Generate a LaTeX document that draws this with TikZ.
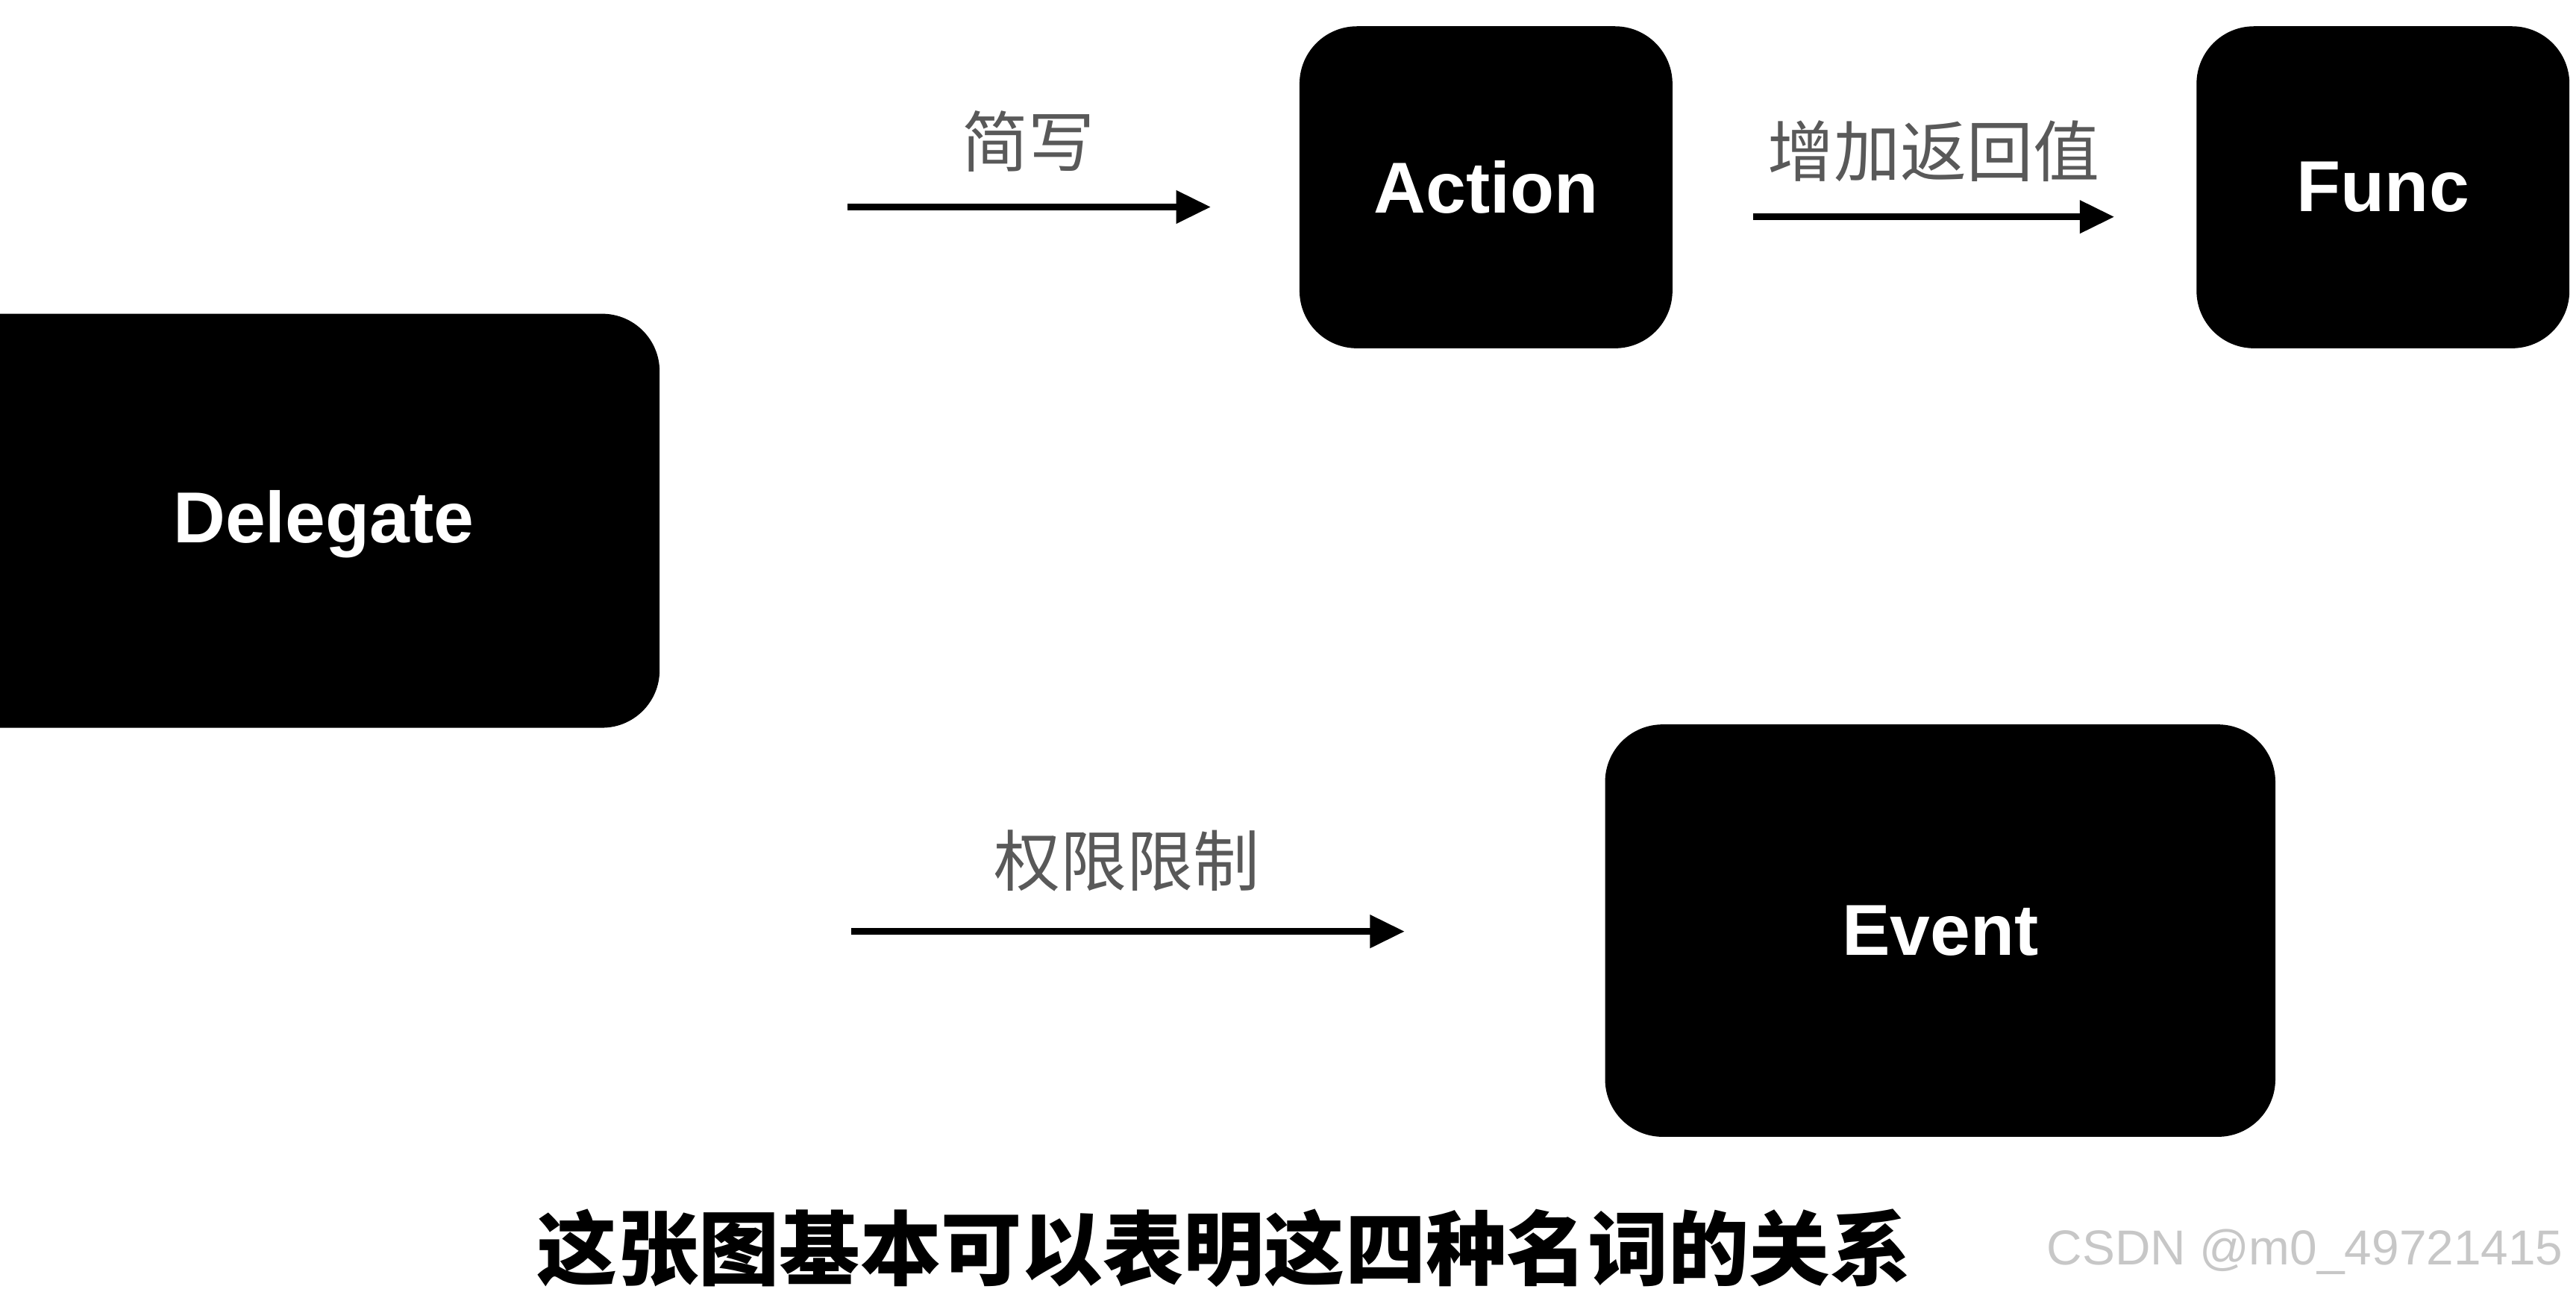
\documentclass[tikz,border=0pt]{standalone}
\usepackage{fontspec}
\setmainfont{Liberation Sans}
\newfontfamily\cjk{Noto Sans CJK SC}
\usetikzlibrary{arrows.meta}
\begin{document}
\begin{tikzpicture}[x=0.02cm,y=-0.02cm,
  box/.style={fill=black,rounded corners=0.7cm,inner sep=0pt,text=white,font=\fontsize{25}{30}\selectfont\bfseries},
  arr/.style={line width=2.3pt,-{Triangle[length=12pt,width=11pt]}},
  lab/.style={text=black!65,font=\cjk\fontsize{23}{28}\selectfont}]
\useasboundingbox (0,0) rectangle (1568,788);
\begin{scope}
\clip (0,0) rectangle (1568,788);
\node[box,minimum width=441*0.02cm,minimum height=252*0.02cm] (del) at (181,317) {};
\end{scope}
\node[text=white,font=\fontsize{25}{30}\selectfont\bfseries] (delt) at (197,319) {Delegate};
\node[box,minimum width=227*0.02cm,minimum height=196*0.02cm] (act) at (904.5,114) {Action};
\node[box,minimum width=227*0.02cm,minimum height=196*0.02cm] (fun) at (1450.5,114) {Func};
\node[box,minimum width=408*0.02cm,minimum height=251*0.02cm] (evt) at (1181,566.5) {Event};
\coordinate (a1) at (516,126); \coordinate (b1) at (737,126);
\coordinate (a2) at (1067,132); \coordinate (b2) at (1287,132);
\coordinate (a3) at (518,567); \coordinate (b3) at (855,567);
\draw[arr] (a1) -- (b1);
\draw[arr] (a2) -- (b2);
\draw[arr] (a3) -- (b3);
\node[lab] (l1) at (626,86) {简写};
\node[lab] (l2) at (1177,92) {增加返回值};
\node[lab] (l3) at (686,524) {权限限制};
\node[font=\cjk\fontsize{28}{34}\selectfont\bfseries] (cap) at (745,760) {这张图基本可以表明这四种名词的关系};
\node[text=black!22,font=\fontsize{17}{20}\selectfont] (wm) at (1403,762) {CSDN @m0\_49721415};
\end{tikzpicture}
\end{document}
